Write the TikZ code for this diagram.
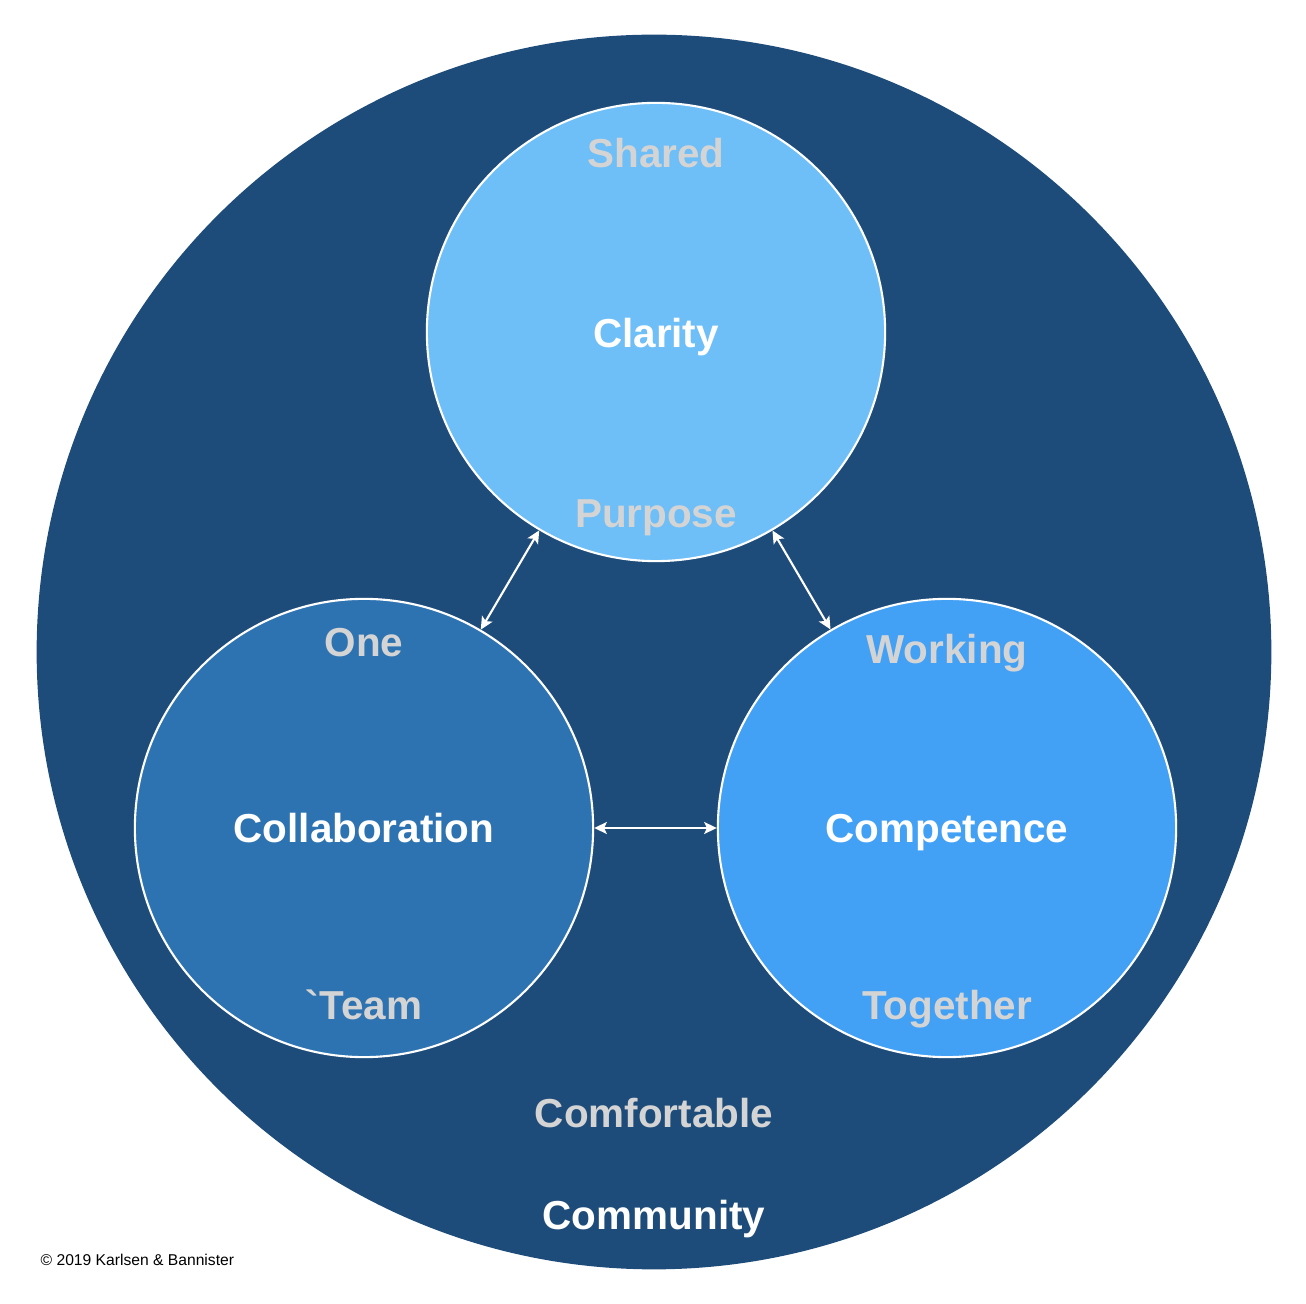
\documentclass[tikz,border=0pt]{standalone}
\usepackage{fontspec}
\setmainfont{Liberation Sans}
\newfontfamily\plainsans{Liberation Sans}
\usetikzlibrary{arrows.meta}
\definecolor{outerblue}{HTML}{1E4C7A}
\definecolor{topblue}{HTML}{6EBEF8}
\definecolor{leftblue}{HTML}{2E73B1}
\definecolor{rightblue}{HTML}{42A0F5}
\definecolor{softgray}{HTML}{D4D4D4}
\begin{document}
\begin{tikzpicture}[x=0.01cm,y=-0.01cm,
  bigc/.style={circle,fill=outerblue,inner sep=0pt,minimum size=12.34cm},
  smallc/.style={circle,draw=white,line width=0.6pt,inner sep=0pt,minimum size=4.58cm},
  mainlbl/.style={text=white,font=\fontsize{11.5}{13}\selectfont\bfseries,inner sep=0pt,anchor=base},
  sublbl/.style={text=softgray,font=\fontsize{11.5}{13}\selectfont\bfseries,inner sep=0pt,anchor=base},
  link/.style={white,line width=0.6pt,{Stealth[length=3.6pt,width=3.4pt,inset=0.8pt]}-{Stealth[length=3.6pt,width=3.4pt,inset=0.8pt]}}
]
\useasboundingbox (0,0) rectangle (1306,1304);
\node[bigc] (outer) at (654,652) {};
\node[smallc,fill=topblue] (top) at (656,332) {};
\node[smallc,fill=leftblue] (left) at (364,828) {};
\node[smallc,fill=rightblue] (right) at (947,828) {};
\draw[link] (top) -- (left);
\draw[link] (top) -- (right);
\draw[link] (left) -- (right);
\node[sublbl] (shared) at (656,168) {Shared};
\node[mainlbl] (clarity) at (656,348) {Clarity};
\node[sublbl] (purpose) at (656,528) {Purpose};
\node[sublbl] (one) at (364,657) {One};
\node[mainlbl] (collab) at (364,843) {Collaboration};
\node[sublbl] (team) at (364,1020) {{\plainsans\bfseries `Team}};
\node[sublbl] (working) at (947,664) {Working};
\node[mainlbl] (comp) at (947,843) {Competence};
\node[sublbl] (together) at (947,1020) {Together};
\node[sublbl] (comf) at (654,1127) {Comfortable};
\node[mainlbl] (comm) at (654,1229) {Community};
\node[anchor=base west,inner sep=0pt,font=\fontsize{4.45}{5}\selectfont] (copy) at (40,1265) {\textcopyright{} 2019 Karlsen \& Bannister};
\end{tikzpicture}
\end{document}
